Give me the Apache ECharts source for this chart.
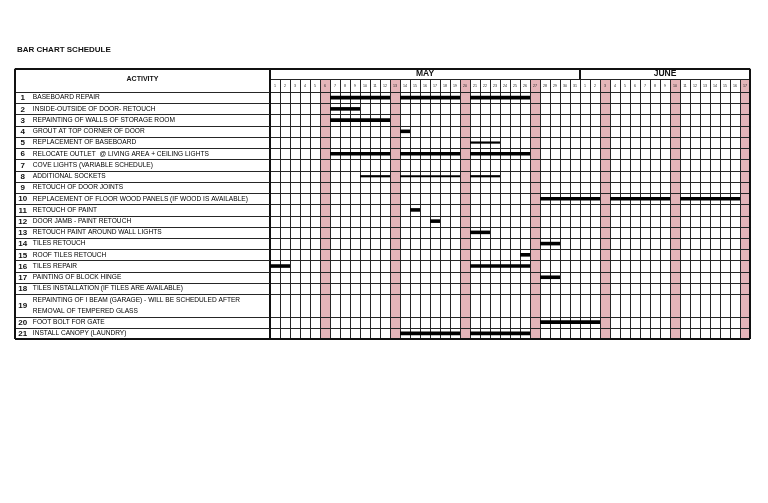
<!DOCTYPE html>
<html><head><meta charset="utf-8">
<script src="https://cdn.jsdelivr.net/npm/echarts@6/dist/echarts.min.js"></script>
<style>html,body{margin:0;padding:0;background:#fff}#c{width:768px;height:503px}</style>
</head><body><div id="c"></div>
<script>
// ---------- data ----------
const chartTitle = 'BAR CHART SCHEDULE';
const headerActivity = 'ACTIVITY';
const months = ['MAY', 'JUNE'];
const monthKeys = ['05', '06'];
const monthDayCounts = [31, 17];
const activities = [
  'BASEBOARD REPAIR',
  'INSIDE-OUTSIDE OF DOOR- RETOUCH',
  'REPAINTING OF WALLS OF STORAGE ROOM',
  'GROUT AT TOP CORNER OF DOOR',
  'REPLACEMENT OF BASEBOARD',
  'RELOCATE OUTLET  @ LIVING AREA + CEILING LIGHTS',
  'COVE LIGHTS (VARIABLE SCHEDULE)',
  'ADDITIONAL SOCKETS',
  'RETOUCH OF DOOR JOINTS',
  'REPLACEMENT OF FLOOR WOOD PANELS (IF WOOD IS AVAILABLE)',
  'RETOUCH OF PAINT',
  'DOOR JAMB - PAINT RETOUCH',
  'RETOUCH PAINT AROUND WALL LIGHTS',
  'TILES RETOUCH',
  'ROOF TILES RETOUCH',
  'TILES REPAIR',
  'PAINTING OF BLOCK HINGE',
  'TILES INSTALLATION (IF TILES ARE AVAILABLE)',
  'REPAINTING OF I BEAM (GARAGE) - WILL BE SCHEDULED AFTER\nREMOVAL OF TEMPERED GLASS',
  'FOOT BOLT FOR GATE',
  'INSTALL CANOPY (LAUNDRY)'
];
const activityLineCounts = [1,1,1,1,1,1,1,1,1,1,1,1,1,1,1,1,1,1,2,1,1];
const sundays = ['05-06','05-13','05-20','05-27','06-03','06-10','06-17'];
// [activity no., first day, last day]
const tasks = [
  [1,'05-07','05-12'],[1,'05-14','05-19'],[1,'05-21','05-26'],
  [2,'05-07','05-09'],
  [3,'05-07','05-12'],
  [4,'05-14','05-14'],
  [5,'05-21','05-23'],
  [6,'05-07','05-12'],[6,'05-14','05-19'],[6,'05-21','05-26'],
  [8,'05-10','05-12'],[8,'05-14','05-19'],[8,'05-21','05-23'],
  [10,'05-28','06-02'],[10,'06-04','06-09'],[10,'06-11','06-16'],
  [11,'05-15','05-15'],
  [12,'05-17','05-17'],
  [13,'05-21','05-22'],
  [14,'05-28','05-29'],
  [15,'05-26','05-26'],
  [16,'05-01','05-02'],[16,'05-21','05-26'],
  [17,'05-28','05-29'],
  [20,'05-28','06-02'],
  [21,'05-14','05-19'],[21,'05-21','05-26']
];
const lightTasks = [5, 8];

// ---------- derived ----------
const dayKeys = [], dayLabels = [];
months.forEach((m, mi) => {
  for (let d = 1; d <= monthDayCounts[mi]; d++) {
    dayKeys.push(monthKeys[mi] + '-' + String(d).padStart(2, '0'));
    dayLabels.push(String(d));
  }
});
const N = dayKeys.length;
const rowTop = []; let acc = 0;
activityLineCounts.forEach(s => { rowTop.push(acc); acc += s; });
const TOTAL = acc;
const HEAD_TOP = -2.08, MONTH_BOTTOM = -1.16;

const BLACK = '#111', GRIDC = '#262626', PINK = '#e5b5b9';
const FONT = '"Liberation Sans Narrow","Arial Narrow","Liberation Sans",sans-serif';

function lineShape(api, p1, p2, lw, color) {
  const a = api.coord(p1), b = api.coord(p2);
  const off = (lw % 2 === 1) ? 0.5 : 0;
  let x1 = a[0], y1 = a[1], x2 = b[0], y2 = b[1];
  if (Math.abs(x1 - x2) < 0.01) { x1 = x2 = Math.round(x1) + off; }
  if (Math.abs(y1 - y2) < 0.01) { y1 = y2 = Math.round(y1) + off; }
  return { type: 'line', shape: { x1, y1, x2, y2 }, style: { stroke: color, lineWidth: lw }, silent: true };
}

// timeline lines data [x1,y1,x2,y2,lw]
const tlLines = [];
for (let i = 1; i < N; i++) tlLines.push([i, MONTH_BOTTOM, i, TOTAL, 1]);
let c = 0;
monthDayCounts.forEach((n, mi) => { c += n; if (c < N) tlLines.push([c, HEAD_TOP, c, MONTH_BOTTOM, 2]); });
tlLines.push([0, MONTH_BOTTOM, N, MONTH_BOTTOM, 1]);
tlLines.push([0, 0, N, 0, 1]);
rowTop.forEach((t, i) => { if (i > 0) tlLines.push([0, t, N, t, 1]); });
tlLines.push([0, HEAD_TOP, N, HEAD_TOP, 2]);
tlLines.push([0, TOTAL, N, TOTAL, 2]);
tlLines.push([N, HEAD_TOP, N, TOTAL, 2]);
tlLines.push([0, HEAD_TOP, 0, TOTAL, 2]);

// activity column lines
const acLines = [];
acLines.push([0, 0, 1, 0, 1]);
rowTop.forEach((t, i) => { if (i > 0) acLines.push([0, t, 1, t, 1]); });
acLines.push([0, HEAD_TOP, 1, HEAD_TOP, 2]);
acLines.push([0, TOTAL, 1, TOTAL, 2]);
acLines.push([0, HEAD_TOP, 0, TOTAL, 2]);

const pinkData = sundays.map(k => { const i = dayKeys.indexOf(k); return [i, i + 1]; });
const barData = tasks.map(t => {
  const r = t[0] - 1;
  return [dayKeys.indexOf(t[1]), dayKeys.indexOf(t[2]) + 1, rowTop[r] + activityLineCounts[r] / 2, lightTasks.includes(t[0]) ? 1 : 0];
});
const dayLabelData = dayLabels.map((l, i) => [i + 0.5, (MONTH_BOTTOM) / 2, l]);
let mc = 0;
const monthLabelData = months.map((m, mi) => { const s = mc; mc += monthDayCounts[mi]; return [(s + mc) / 2, (HEAD_TOP + MONTH_BOTTOM) / 2, m]; });
const actData = activities.map((a, i) => [rowTop[i] + activityLineCounts[i] / 2, i + 1, a, activityLineCounts[i]]);

const lineSeries = (data, gi) => ({
  type: 'custom', xAxisIndex: gi, yAxisIndex: gi, data, silent: true, z: 3,
  renderItem: (p, api) => lineShape(api, [api.value(0), api.value(1)], [api.value(2), api.value(3)], api.value(4), api.value(4) > 1 ? BLACK : GRIDC)
});

const chart = echarts.init(document.getElementById('c'), null, { renderer: 'canvas' });
chart.setOption({
  animation: false,
  backgroundColor: '#fff',
  title: { text: chartTitle, left: 17, top: 46, padding: 0, textStyle: { fontFamily: FONT, fontSize: 8, fontWeight: 'bold', color: BLACK } },
  grid: [
    { left: 15, width: 255, top: 68.7, height: 270.3 },
    { left: 270, width: 480, top: 68.7, height: 270.3 }
  ],
  xAxis: [
    { type: 'value', gridIndex: 0, min: 0, max: 1, show: false },
    { type: 'value', gridIndex: 1, min: 0, max: N, show: false }
  ],
  yAxis: [
    { type: 'value', gridIndex: 0, min: HEAD_TOP, max: TOTAL, inverse: true, show: false },
    { type: 'value', gridIndex: 1, min: HEAD_TOP, max: TOTAL, inverse: true, show: false }
  ],
  series: [
    { type: 'custom', xAxisIndex: 1, yAxisIndex: 1, data: pinkData, silent: true, z: 1,
      renderItem: (p, api) => {
        const a = api.coord([api.value(0), MONTH_BOTTOM]), b = api.coord([api.value(1), TOTAL]);
        return { type: 'rect', shape: { x: a[0], y: a[1], width: b[0] - a[0], height: b[1] - a[1] }, style: { fill: PINK } };
      } },
    lineSeries(tlLines, 1),
    lineSeries(acLines, 0),
    { type: 'custom', xAxisIndex: 1, yAxisIndex: 1, data: barData, silent: true, z: 4,
      renderItem: (p, api) => {
        const a = api.coord([api.value(0), api.value(2)]), b = api.coord([api.value(1), api.value(2)]);
        const h = api.value(3) ? 2.2 : 3.6;
        return { type: 'rect', shape: { x: a[0], y: a[1] - h / 2, width: b[0] - a[0], height: h }, style: { fill: '#000' } };
      } },
    { type: 'custom', xAxisIndex: 1, yAxisIndex: 1, data: dayLabelData, silent: true, z: 5,
      renderItem: (p, api) => {
        const a = api.coord([api.value(0), api.value(1)]);
        return { type: 'text', style: { text: dayLabels[p.dataIndex], x: a[0], y: a[1] + 0.5, textAlign: 'center', textVerticalAlign: 'middle', font: '3.6px ' + FONT, fill: '#222' } };
      } },
    { type: 'custom', xAxisIndex: 1, yAxisIndex: 1, data: monthLabelData, silent: true, z: 5,
      renderItem: (p, api) => {
        const a = api.coord([api.value(0), api.value(1)]);
        return { type: 'text', style: { text: months[p.dataIndex], x: a[0], y: a[1], textAlign: 'center', textVerticalAlign: 'middle', font: 'bold 8.5px ' + FONT, fill: BLACK } };
      } },
    { type: 'custom', xAxisIndex: 0, yAxisIndex: 0, data: [[0.5, HEAD_TOP / 2]], silent: true, z: 5,
      renderItem: (p, api) => {
        const a = api.coord([api.value(0), api.value(1)]);
        return { type: 'text', style: { text: headerActivity, x: a[0], y: a[1] - 1, textAlign: 'center', textVerticalAlign: 'middle', font: 'bold 7px ' + FONT, fill: BLACK } };
      } },
    { type: 'custom', xAxisIndex: 0, yAxisIndex: 0, data: actData, silent: true, z: 5,
      renderItem: (p, api) => {
        const yc = api.value(0);
        const pn = api.coord([0.03, yc]), pt = api.coord([0.07, yc]);
        const txt = activities[p.dataIndex];
        return { type: 'group', children: [
          { type: 'text', style: { text: String(api.value(1)), x: pn[0], y: pn[1] + 0.5, textAlign: 'center', textVerticalAlign: 'middle', font: 'bold 8px ' + FONT, fill: BLACK } },
          { type: 'text', style: { text: txt, x: pt[0], y: pt[1], textAlign: 'left', textVerticalAlign: 'middle', font: '6.6px ' + FONT, lineHeight: 11.2, fill: '#000' } }
        ] };
      } }
  ]
});
</script></body></html>
